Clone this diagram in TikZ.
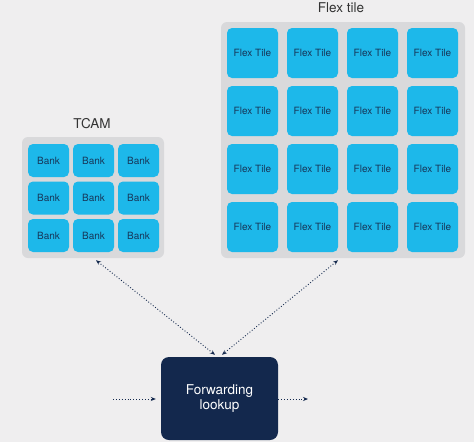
\documentclass[tikz,border=0pt]{standalone}
\usepackage{fontspec}
\setmainfont{TeX Gyre Heros}
\usepackage{tikz}
\usetikzlibrary{arrows.meta}
\definecolor{page_bg}{HTML}{EFEEEF}
\definecolor{panel_gray}{HTML}{D9D9DB}
\definecolor{tile_blue}{HTML}{1DB8EA}
\definecolor{tile_text}{HTML}{17375A}
\definecolor{fwd_navy}{HTML}{13284D}
\colorlet{link_col}{fwd_navy}
\tikzset{
    panel_box/.style={fill=panel_gray,rounded corners=6pt,inner sep=0pt},
    bank_cell/.style={fill=tile_blue,rounded corners=5pt,inner sep=0pt,
        minimum width=41pt,minimum height=33pt,text=tile_text,
        font=\fontsize{10}{12}\selectfont},
    flex_cell/.style={bank_cell,minimum width=51pt,minimum height=50pt},
    group_label/.style={font=\fontsize{13.5}{15}\selectfont,text=black!80},
    fwd_box/.style={fill=fwd_navy,rounded corners=8pt,inner sep=0pt,
        minimum width=117pt,minimum height=83pt,text=white,align=center,
        font=\fontsize{13.5}{15.5}\selectfont},
    link_arrow/.style={link_col,dotted,line width=0.9pt,
        -{Stealth[length=5pt,width=4pt]}},
    link_both/.style={link_arrow,{Stealth[length=5pt,width=4pt]}-{Stealth[length=5pt,width=4pt]}},
}

\begin{document}
\begin{tikzpicture}[x=1pt,y=-1pt]
  \fill[page_bg] (0,0) rectangle (474,442);
  \useasboundingbox (0,0) rectangle (474,442);
  % TCAM block
  \node[group_label] (tcam_label) at (92,124) {TCAM};
  \node[panel_box,minimum width=142pt,minimum height=121pt] (tcam) at (93,197.5) {};
  \foreach \c in {0,1,2}
    \foreach \r in {0,1,2}
      \node[bank_cell] (bank_\c_\r) at (48.5+45*\c,160.5+37.5*\r) {Bank};
  % Flex tile block
  \node[group_label] (flex_label) at (341,8) {Flex tile};
  \node[panel_box,minimum width=244pt,minimum height=236pt] (flex) at (343,140) {};
  \foreach \c in {0,...,3}
    \foreach \r in {0,...,3}
      \node[flex_cell] (tile_\c_\r) at (252.5+60*\c,53+58*\r) {Flex Tile};
  % Forwarding lookup
  \node[fwd_box] (fwd) at (219.5,398.5) {Forwarding\\lookup};
  \coordinate (in_pt) at (113,399);
  \coordinate (out_pt) at (308,399);
  \draw[link_arrow] (in_pt) -- ([xshift=-5pt,yshift=-0.5pt]fwd.west);
  \draw[link_arrow] ([yshift=-0.5pt]fwd.east) -- (out_pt);
  \draw[link_both] ([xshift=3pt,yshift=-2pt]tcam.south) -- ([xshift=-4.5pt,yshift=2pt]fwd.north);
  \draw[link_both] ([xshift=-5pt,yshift=-2pt]flex.south) -- ([xshift=2.5pt,yshift=2pt]fwd.north);
\end{tikzpicture}
\end{document}
